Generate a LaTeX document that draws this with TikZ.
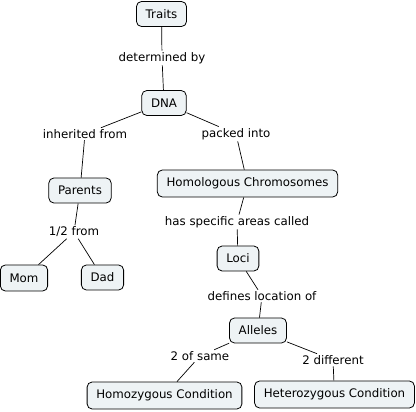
\documentclass[tikz,border=0pt]{standalone}
\usepackage{fontspec}
\setmainfont{DejaVu Sans}
\begin{document}
\begin{tikzpicture}[x=1pt,y=-1pt,
  concept/.style={draw=black, line width=0.8pt, fill=boxfill, rounded corners=5pt,
    inner xsep=9.2pt, inner ysep=0pt, minimum height=25pt, font=\fontsize{11.8}{14}\selectfont},
  linklabel/.style={inner sep=1.5pt, font=\fontsize{11.8}{14}\selectfont},
  conn/.style={draw=black, line width=0.7pt}]
\definecolor{boxfill}{HTML}{EEF3F5}
\useasboundingbox (0,0) rectangle (416,412);
\node[concept] (traits) at (161.5,14) {Traits};
\node[linklabel] (l1) at (162,58) {determined by};
\node[concept] (dna) at (164,103) {DNA};
\node[linklabel] (l2) at (85,134) {inherited from};
\node[linklabel] (l3) at (236,134) {packed into};
\node[concept] (parents) at (80,190.5) {Parents};
\node[concept, minimum height=27pt] (homol) at (247.5,183.5) {Homologous Chromosomes};
\node[linklabel] (l4) at (74,232) {1/2 from};
\node[linklabel] (l5) at (237,222) {has specific areas called};
\node[concept, minimum height=26pt] (mom) at (24,278) {Mom};
\node[concept] (dad) at (102.5,277.5) {Dad};
\node[concept] (loci) at (238,258.5) {Loci};
\node[linklabel] (l6) at (262,296) {defines location of};
\node[concept] (alleles) at (258,330.5) {Alleles};
\node[linklabel] (l7) at (200,356) {2 of same};
\node[linklabel] (l8) at (333,360) {2 different};
\node[concept, minimum height=27pt] (homo) at (164.5,395.5) {Homozygous Condition};
\node[concept, minimum height=27pt] (hetero) at (334.5,394.5) {Heterozygous Condition};
\draw[conn] (traits) -- (l1);
\draw[conn] (l1) -- (dna);
\draw[conn] (dna) -- (l2);
\draw[conn] (l2) -- (parents);
\draw[conn] (dna) -- (l3);
\draw[conn] (l3) -- (homol);
\draw[conn] (parents) -- (l4);
\draw[conn] (l4) -- (mom);
\draw[conn] (l4) -- (dad);
\draw[conn] (homol) -- (l5);
\draw[conn] (l5) -- (loci);
\draw[conn] (loci) -- (l6);
\draw[conn] (l6) -- (alleles);
\draw[conn] (alleles) -- (l7);
\draw[conn] (l7) -- (homo);
\draw[conn] (alleles) -- (l8);
\draw[conn] (l8) -- (hetero);
\end{tikzpicture}
\end{document}
